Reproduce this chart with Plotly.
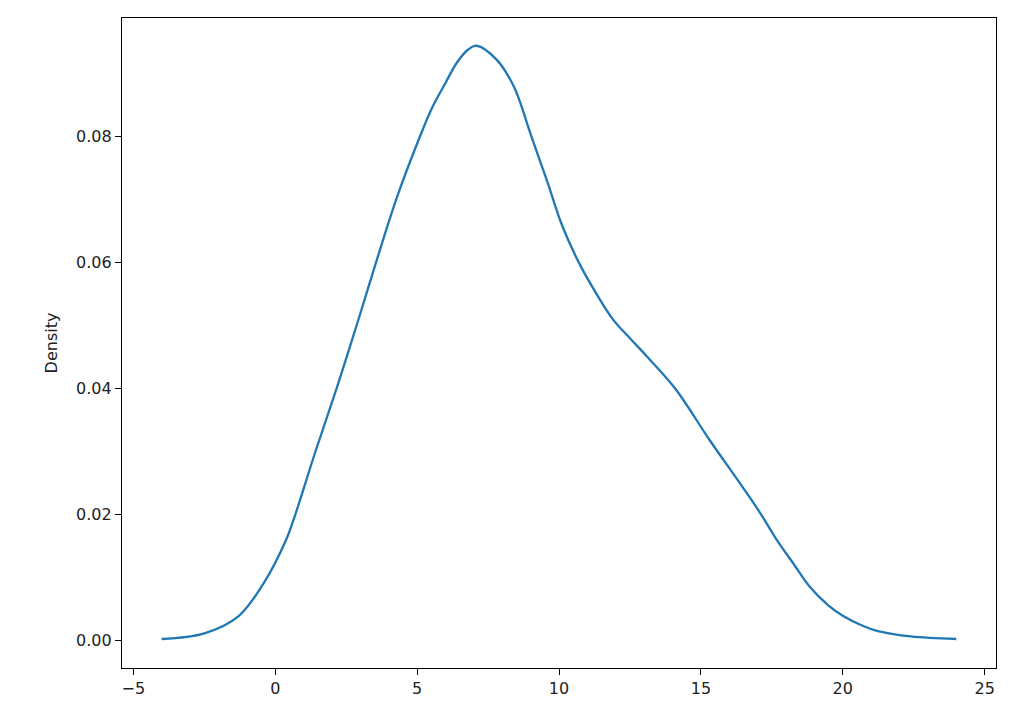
import plotly.graph_objects as go

# points
x_vals = [-4.0, -2.5, -1.3, -0.4, 0.4, 0.69, 1.4, 2.16, 2.9, 3.55, 4.3, 5.1, 5.5, 6.0, 6.4,
          6.8, 7.1, 7.8, 8.4, 9.03, 9.6, 10.1, 10.7, 11.3, 11.9, 12.5, 13.1, 14.1, 15.3,
          16.5, 17.13, 17.65, 18.3, 18.8, 19.5, 20.0, 20.7, 21.2, 22.4, 24.0]
density = [0.0003, 0.0012, 0.0039, 0.0092, 0.0162, 0.0198, 0.0298, 0.0400, 0.0505, 0.0600,
           0.0705, 0.0800, 0.0843, 0.0885, 0.0917, 0.0938, 0.0944, 0.0922, 0.0880, 0.0800,
           0.0727, 0.0660, 0.0600, 0.0552, 0.0510, 0.0480, 0.0451, 0.0400, 0.0319, 0.0242,
           0.0200, 0.0162, 0.0120, 0.0088, 0.0056, 0.0040, 0.0024, 0.0016, 0.0007, 0.0003]

x_ticks = [-5, 0, 5, 10, 15, 20, 25]
y_ticks = [0.00, 0.02, 0.04, 0.06, 0.08]

fig = go.Figure()
fig.add_trace(go.Scatter(x=x_vals, y=density, mode='lines',
                         line=dict(color='#1f77b4', width=2.3, shape='spline', smoothing=1.0),
                         showlegend=False))

axis_style = dict(showline=True, linecolor='black', linewidth=1.3, mirror=True,
                  showgrid=False, zeroline=False, ticks='outside', ticklen=6,
                  tickcolor='black', tickfont=dict(size=16, color='#222'))

fig.update_xaxes(range=[-5.4, 25.4], tickvals=x_ticks, **axis_style)
fig.update_yaxes(range=[-0.0043, 0.0988], tickvals=y_ticks, tickformat='.2f',
                 title=dict(text='Density', font=dict(size=16, color='#222'), standoff=14),
                 **axis_style)

fig.update_layout(width=1024, height=714, plot_bgcolor='white', paper_bgcolor='white',
                  font=dict(family='DejaVu Sans'),
                  margin=dict(l=114, r=36, t=10, b=54))

fig.write_html("out.html")
